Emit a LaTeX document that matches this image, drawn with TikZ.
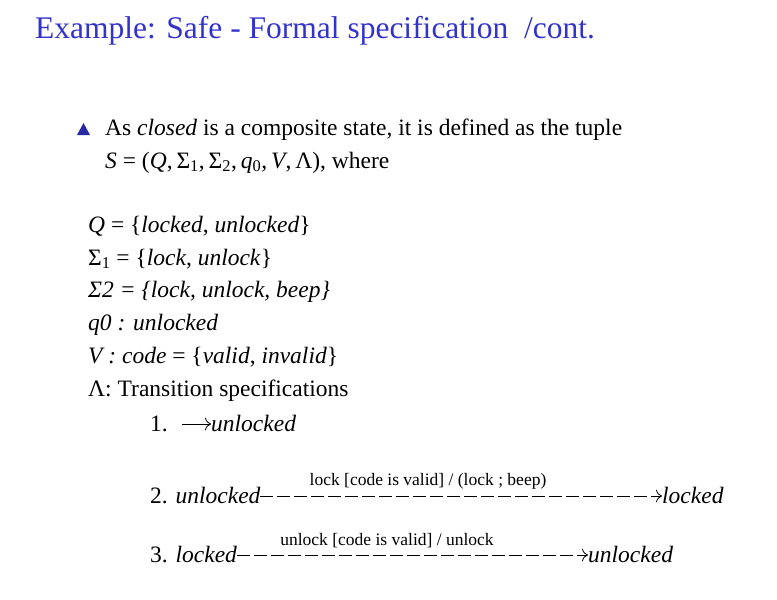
\documentclass[tikz,border=0pt]{standalone}
\usepackage{fontspec}
\usetikzlibrary{arrows.meta}
\setmainfont{Liberation Serif}
\begin{document}
\begin{tikzpicture}[x=1pt,y=-1pt,
  txt/.style={anchor=base west,inner sep=0pt,font=\fontsize{23.5}{26}\selectfont},
  lbl/.style={anchor=base,inner sep=0pt,font=\fontsize{17.5}{20}\selectfont},
  darr/.style={line width=0.8pt,dash pattern=on 13pt off 4pt,-{To[length=6pt]}}]
\useasboundingbox (0,0) rectangle (777,600);
\definecolor{ttl}{RGB}{51,51,204}
\node[txt,text=ttl,font=\fontsize{31.5}{34}\selectfont] (title) at (35,38) {Example: Safe - Formal specification\ \ /cont.};
\fill[ttl!80!black] (77,135) -- (90,135) -- (83.5,123) -- cycle;
\node[txt] (l1) at (105,135) {As \textit{closed} is a composite state, it is defined as the tuple};
\node[txt] (l2) at (105,168) {\textit{S} = (\textit{Q},\,Σ\textsubscript{1},\,Σ\textsubscript{2},\,\textit{q}\textsubscript{0},\,\textit{V},\,Λ), where};
\node[txt] (l3) at (88,232) {\textit{Q} = \{\textit{locked}, \textit{unlocked}\}};
\node[txt] (l4) at (88,265) {Σ\textsubscript{1} = \{\textit{lock}, \textit{unlock}\}};
\node[txt] (l5) at (88,297) {\textit{Σ2 = \{lock, unlock, beep\}}};
\node[txt] (l6) at (88,330) {\textit{q0 : unlocked}};
\node[txt] (l7) at (88,363) {\textit{V : code} = \{\textit{valid}, \textit{invalid}\}};
\node[txt] (l8) at (88,396) {Λ: Transition specifications};
\node[txt] (n1) at (150,431) {1.};
\coordinate (a0) at (182,424);
\node[txt,anchor=base west] (u1) at (211,431) {\textit{unlocked}};
\draw[line width=0.8pt,-{To[length=6pt]}] (a0) -- (u1.west |- a0);
\node[txt] (n2) at (150,503) {2. \textit{unlocked}};
\node[txt] (lk) at (662,503) {\textit{locked}};
\coordinate (b0) at (260,496);
\draw[darr] (b0) -- (lk.west |- b0);
\node[lbl] (t2) at (428,485) {lock [code is valid] / (lock ; beep)};
\node[txt] (n3) at (150,562) {3. \textit{locked}};
\node[txt] (ul) at (588,562) {\textit{unlocked}};
\coordinate (c0) at (237,555);
\draw[darr] (c0) -- (ul.west |- c0);
\node[lbl] (t3) at (387,545) {unlock [code is valid] / unlock};
\end{tikzpicture}
\end{document}
